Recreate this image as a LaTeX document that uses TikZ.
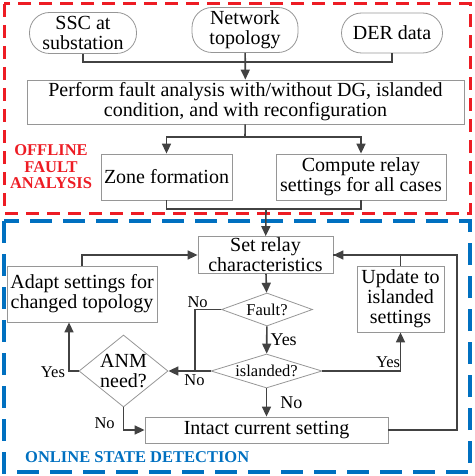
\documentclass[tikz,border=0pt]{standalone}
\usepackage{fontspec}
\setmainfont{Liberation Serif}
\usetikzlibrary{positioning, shapes.geometric, arrows.meta}
\definecolor{frred}{RGB}{237,28,36}
\definecolor{frblue}{RGB}{0,112,192}
\definecolor{linegray}{RGB}{66,66,66}
\definecolor{boxgray}{RGB}{150,150,150}
\newcommand{\txtbig}{\fontsize{20}{20}\selectfont}
\newcommand{\txtmid}{\fontsize{16.5}{17}\selectfont}

\begin{document}
\begin{tikzpicture}[
        x=1pt, y=-1pt,
        every node/.style={align=center, font=\txtbig, inner sep=1pt},
        term/.style={draw=boxgray, line width=0.8pt, rounded corners=20pt, minimum height=41pt},
        box/.style={draw=boxgray, line width=0.8pt},
        dec/.style={diamond, draw=boxgray, line width=0.8pt, inner sep=0pt},
        ln/.style={draw=linegray, line width=1.6pt},
        arr/.style={ln, -{Triangle[length=10pt, width=9pt]}},
        lbl/.style={font=\txtmid, inner sep=1pt}
    ]
      \useasboundingbox (0,0) rectangle (474,476);
      % dashed frames
      \draw[frred, line width=3pt, dash pattern=on 13pt off 8pt] (4,4) rectangle (470,213);
      \draw[frblue, line width=4.5pt, dash pattern=on 22pt off 11pt] (4,221) rectangle (470,472);
      \node[font=\bfseries\fontsize{16.5}{16.5}\selectfont, text=frred] (offl) at (51,167) {OFFLINE\\FAULT\\ANALYSIS};
      \node[font=\bfseries\fontsize{16.5}{16.5}\selectfont, text=frblue, anchor=west] (onl) at (24,457) {ONLINE STATE DETECTION};

      % offline part
      \node[term, minimum width=107pt] (ssc) at (83,33) {SSC at\\substation};
      \node[term, minimum width=106pt, minimum height=45pt] (net) at (245,30) {Network\\topology};
      \node[term, minimum width=101pt, minimum height=40pt] (der) at (392,33) {DER data};
      \node[box, minimum width=437pt, minimum height=44pt] (fa) at (245.5,102) {Perform fault analysis with/without DG, islanded\\condition, and with reconfiguration};
      \node[box, minimum width=131pt, minimum height=46pt] (zone) at (166.5,177) {Zone formation};
      \node[box, minimum width=170pt, minimum height=46pt] (comp) at (361,177) {Compute relay\\settings for all cases};

      % online part
      \node[box, minimum width=135pt, minimum height=37pt] (set) at (265.5,255) {Set relay\\characteristics};
      \node[box, minimum width=150pt, minimum height=56pt] (adapt) at (82,294) {Adapt settings for\\changed topology};
      \node[box, minimum width=87pt, minimum height=66pt] (upd) at (400.5,299) {Update to\\islanded\\settings};
      \node[dec, aspect=2.8, minimum width=91pt, minimum height=33pt, font=\txtmid] (fdec) at (267,309.5) {Fault?};
      \node[dec, aspect=3.3, minimum width=111pt, minimum height=34pt, font=\txtmid] (idec) at (266.5,371) {islanded?};
      \node[dec, aspect=1.24, minimum width=89pt, minimum height=72pt] (anm) at (123.5,371) {ANM\\need?};
      \node[box, minimum width=243pt, minimum height=26pt] (intact) at (266.5,430) {Intact current setting};

      \coordinate (j1) at (245,62);
      \coordinate (j2) at (245,137);
      \coordinate (j3) at (266,209);
      \coordinate (j4) at (195,371);
      \coordinate (rt) at (457,340);

      \draw[ln] (ssc.south) |- (j1) -| (der.south);
      \draw[arr] (net) -- (fa);
      \draw[ln] (fa) -- (j2);
      \draw[arr] (j2) -| (zone);
      \draw[arr] (j2) -| (comp);
      \draw[ln] (zone.south) |- (j3) -| (comp.south);
      \draw[arr] (j3) -- (set);
      \draw[arr] (set) -- (fdec);
      \draw[ln] (fdec.west) -| node[lbl, pos=0.45, above] {No} (j4);
      \draw[arr] (fdec) -- node[lbl, right, font=\fontsize{18}{18}\selectfont, xshift=2pt] {Yes} (idec);
      \draw[arr] (idec.west) -- node[lbl, pos=0.38, below, yshift=-2pt] {No} (anm.east);
      \draw[arr] (idec.east) -| node[lbl, pos=0.42, above, yshift=2pt] {Yes} (upd.south);
      \draw[arr] (idec) -- node[lbl, right, font=\fontsize{18}{18}\selectfont, xshift=12pt] {No} (intact);
      \draw[arr] (anm.west) -| node[lbl, pos=0.2, left, xshift=-8pt, yshift=-1pt] {Yes} ([xshift=-13pt]adapt.south);
      \draw[arr] (anm.south) |- node[lbl, pos=0.3, left, xshift=-7pt, yshift=-2pt] {No} (intact.west);
      \draw[arr] (adapt.north) |- (set.west);
      \draw[ln] (upd.north) |- (set.east);
      \draw[arr] (intact.east) -| (rt) |- (set.east);
    \end{tikzpicture}
\end{document}
